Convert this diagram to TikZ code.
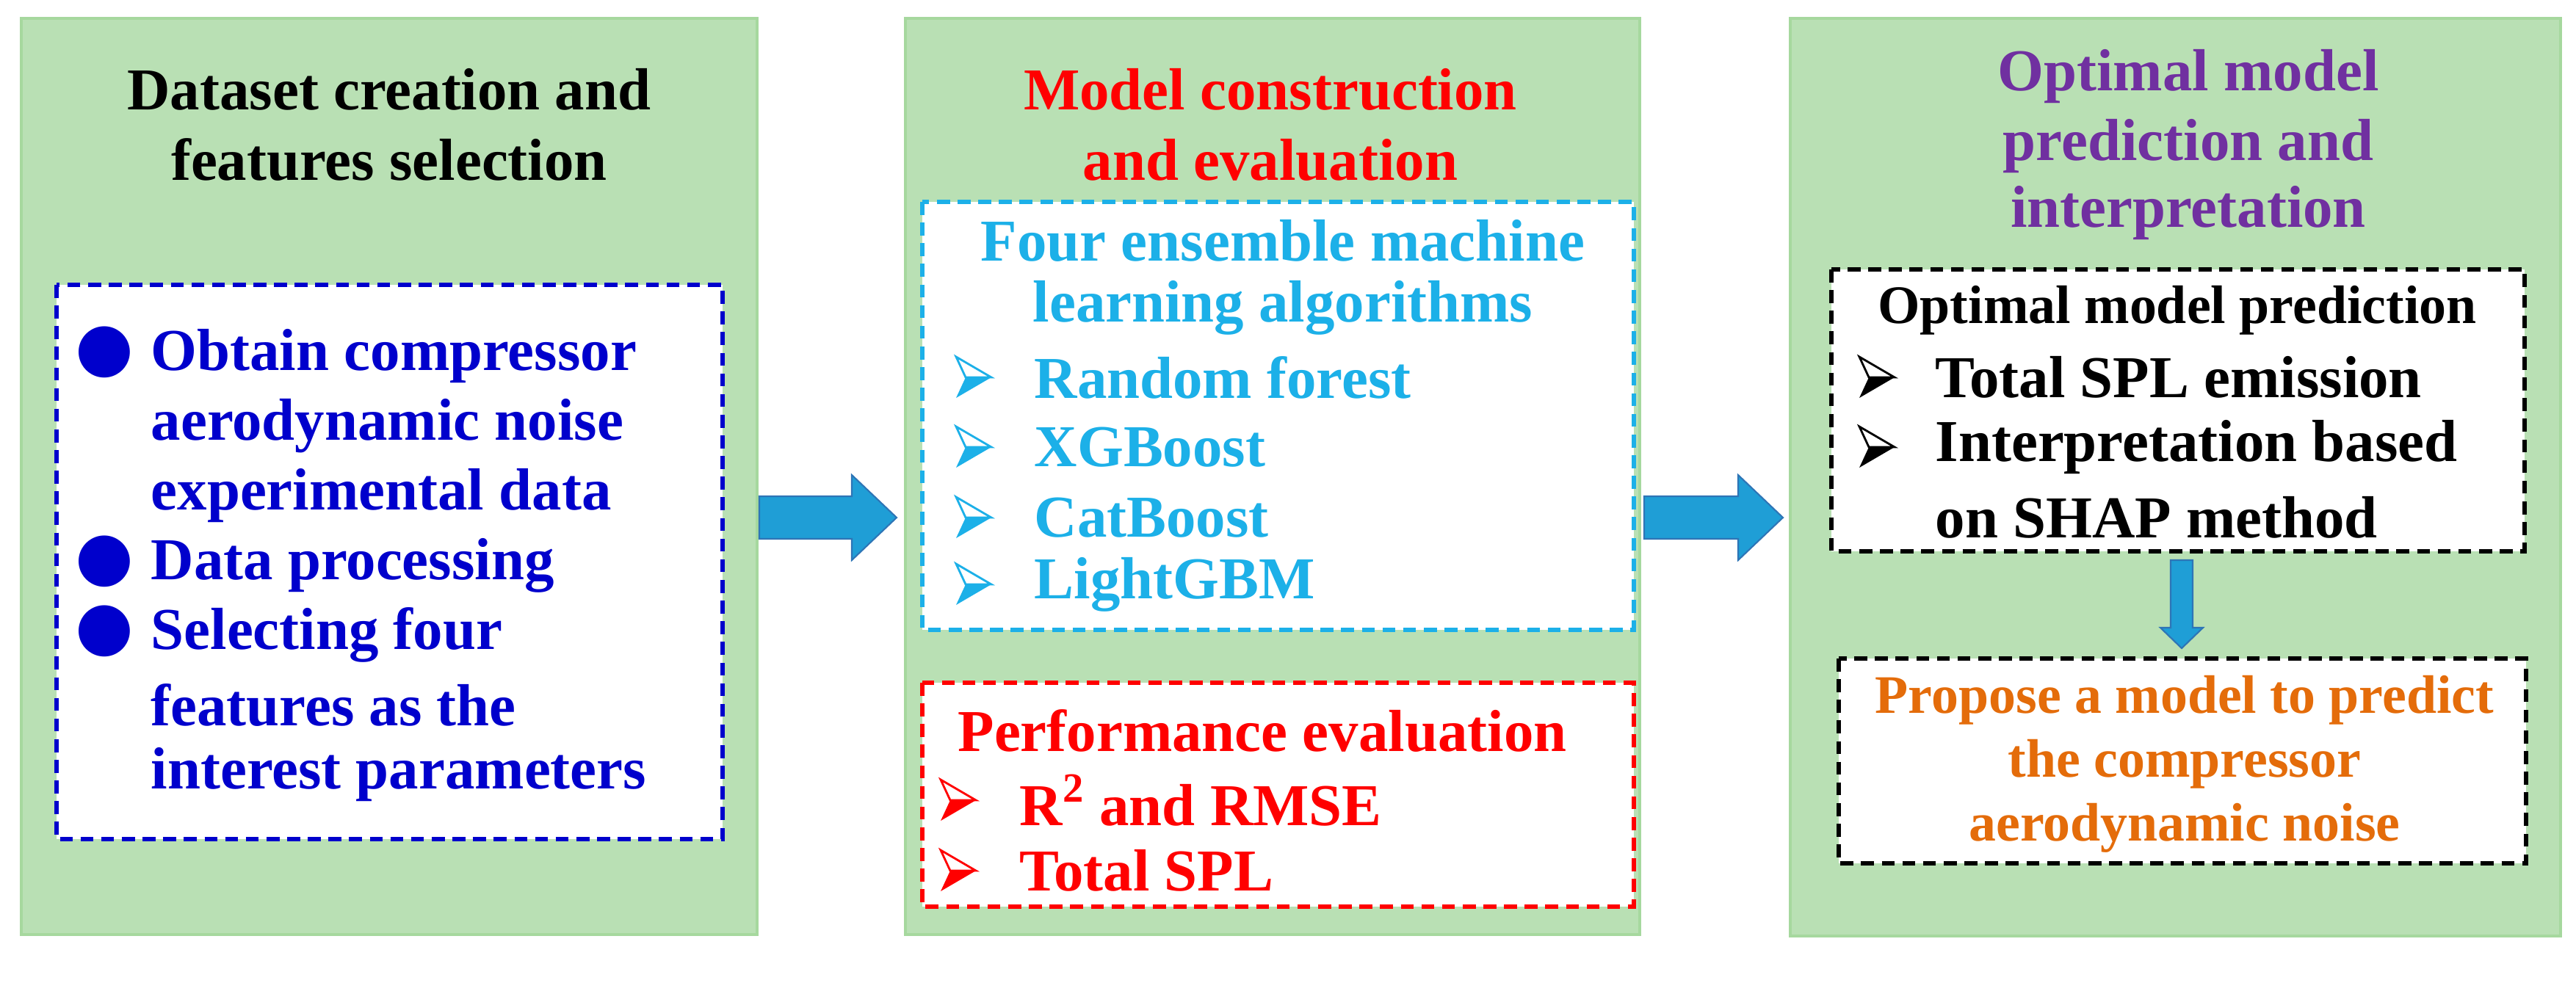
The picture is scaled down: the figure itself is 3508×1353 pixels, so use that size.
\documentclass[tikz,border=0pt]{standalone}
\usepackage{fontspec}
\setmainfont{Liberation Serif}
\newfontfamily\symf{DejaVu Sans}
\definecolor{pgreen}{HTML}{B9E0B4}
\definecolor{pgreenb}{HTML}{A6D89E}
\definecolor{tblue}{HTML}{0000CC}
\definecolor{tcyan}{HTML}{1CB0E8}
\definecolor{tred}{HTML}{FF0000}
\definecolor{tpurple}{HTML}{7030A0}
\definecolor{torange}{HTML}{E46C0A}
\definecolor{afill}{HTML}{1F9ED6}
\definecolor{aedge}{HTML}{2E75B6}
\tikzset{
 panel/.style={fill=pgreen,draw=pgreenb,line width=1.2pt},
 dbox/.style={fill=white,dashed,line width=1.6pt,dash pattern=on 5pt off 3pt},
 big/.style={font=\fontsize{23}{27}\selectfont\bfseries,inner sep=0pt},
 sml/.style={font=\fontsize{21}{25}\selectfont\bfseries,inner sep=0pt},
 barrow/.style={fill=afill,draw=aedge,line width=0.6pt},
 pics/arrowhd/.style={code={
   \draw[#1,line width=0.8pt,line join=miter] (-24,-28) -- (24,0) -- (-11,0) -- cycle;
   \fill[#1] (-11,0) -- (24,0) -- (-24,28) -- cycle;
 }},
}
\newcommand{\blt}{{\symf ●}}
\begin{document}
\begin{tikzpicture}[x=0.01cm,y=-0.01cm]
\useasboundingbox (0,0) rectangle (3508,1353);
% panels
\draw[panel] (29,25) rectangle (1031,1273);
\draw[panel] (1233,25) rectangle (2233,1273);
\draw[panel] (2438,25) rectangle (3487,1275);
% block arrows
\draw[barrow] (1034,676) -- (1160,676) -- (1160,647) -- (1221,705) -- (1160,763) -- (1160,734) -- (1034,734) -- cycle;
\draw[barrow] (2239,676) -- (2367,676) -- (2367,647) -- (2428,705) -- (2367,763) -- (2367,734) -- (2239,734) -- cycle;
\draw[barrow] (2956,763) -- (2986,763) -- (2986,855) -- (3000,855) -- (2971,883) -- (2942,855) -- (2956,855) -- cycle;
% left
\node[big] (l1) at (530,122) {Dataset creation and};
\node[big] (l2) at (530,218) {features selection};
\draw[dbox,draw=tblue] (77,388) rectangle (984,1143);
\begin{scope}[tblue]
\node[big,anchor=west] (b1) at (205,485) {Obtain compressor};
\node[big,anchor=west] (b2) at (205,580) {aerodynamic noise};
\node[big,anchor=west] (b3) at (205,675) {experimental data};
\node[big,anchor=west] (b4) at (205,770) {Data processing};
\node[big,anchor=west] (b5) at (205,865) {Selecting four};
\node[big,anchor=west] (b6) at (205,960) {features as the};
\node[big,anchor=west] (b7) at (205,1055) {interest parameters};
\foreach \y/\n in {480/d1,765/d2,860/d3}
  \node[inner sep=0pt,font=\fontsize{26}{26}\selectfont] (\n) at (142,\y) {\blt};
\end{scope}
% middle
\node[big,tred] (m1) at (1730,122) {Model construction};
\node[big,tred] (m2) at (1730,218) {and evaluation};
\draw[dbox,draw=tcyan] (1256,275) rectangle (2225,858);
\begin{scope}[tcyan]
\node[big] (c1) at (1747,328) {Four ensemble machine};
\node[big] (c2) at (1747,419) {learning algorithms};
\foreach \y/\t/\n in {514/Random forest/r1,609/XGBoost/r2,705/CatBoost/r3,796/LightGBM/r4}{
  \pic at (1326,\y) {arrowhd=tcyan};
  \node[big,anchor=west] (\n) at (1408,\y) {\t};}
\end{scope}
\draw[dbox,draw=tred] (1256,930) rectangle (2225,1235);
\begin{scope}[tred]
\node[big] (p1) at (1719,995) {Performance evaluation};
\pic at (1305,1090) {arrowhd=tred};
\node[big,anchor=west] (p2) at (1388,1090) {R\textsuperscript{2} and RMSE};
\pic at (1305,1186) {arrowhd=tred};
\node[big,anchor=west] (p3) at (1388,1186) {Total SPL};
\end{scope}
% right
\begin{scope}[tpurple]
\node[big] (t1) at (2980,104) {Optimal model};
\node[big] (t2) at (2980,199) {prediction and};
\node[big] (t3) at (2980,290) {interpretation};
\end{scope}
\draw[dbox,draw=black] (2494,367) rectangle (3438,751);
\node[sml] (o1) at (2965,423) {Optimal model prediction};
\pic at (2556,514) {arrowhd=black};
\node[big,anchor=west] (o2) at (2635,514) {Total SPL emission};
\pic at (2556,609) {arrowhd=black};
\node[big,anchor=west] (o3) at (2635,609) {Interpretation based};
\node[big,anchor=west] (o4) at (2635,705) {on SHAP method};
\draw[dbox,draw=black] (2504,897) rectangle (3440,1176);
\begin{scope}[torange]
\node[sml] (g1) at (2975,954) {Propose a model to predict};
\node[sml] (g2) at (2975,1041) {the compressor};
\node[sml] (g3) at (2975,1128) {aerodynamic noise};
\end{scope}
\end{tikzpicture}
\end{document}
